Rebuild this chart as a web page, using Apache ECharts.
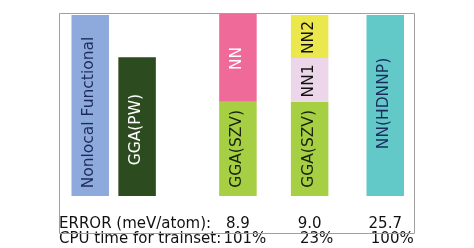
<!DOCTYPE html>
<html><head><meta charset="utf-8">
<script src="https://cdn.jsdelivr.net/npm/echarts@6/dist/echarts.min.js"></script>
<style>html,body{margin:0;padding:0;background:#fff}#c{width:474px;height:248px}</style>
</head><body><div id="c"></div>
<script>
// Data
const columnSlots = [8.8, 22.0, 50.4, 70.6, 91.9];           // position of each column on the x scale (0-100)
const baseNames   = ['Nonlocal Functional', 'GGA(PW)', 'GGA(SZV)', 'GGA(SZV)', 'NN(HDNNP)'];
const baseValues  = [98.9, 75.8, 51.5, 51.5, 98.9];
const nnValues    = [null, null, 48.5, null, null];
const nn1Values   = [null, null, null, 23.9, null];
const nn2Values   = [null, null, null, 23.5, null];
const rowLabels   = ['ERROR (meV/atom):', 'CPU time for trainset:'];
const errorValues = ['8.9', '9.0', '25.7'];
const cpuValues   = ['101%', '23%', '100%'];
const valueColumns = [2, 3, 4];

// styles
const baseColors = ['#8eaadc', '#2c4b1f', '#a6cf43', '#a6cf43', '#63c8c8'];
const baseLabelColors = ['#1c2a5c', '#ffffff', '#1a2410', '#1a2410', '#1c2a5c'];
const baseLabelShift = [6, 2, -1, -1, -3];
const stackLayers = [
  {name: 'NN',  values: nnValues,  color: '#ef6a98', text: '#ffffff'},
  {name: 'NN1', values: nn1Values, color: '#ebd6ea', text: '#111111'},
  {name: 'NN2', values: nn2Values, color: '#eae84c', text: '#111111'}
];
const FONT = 'DejaVu Sans';
const BAR_W = 37.5;

// build stacked segments [x, y0, y1, label, fill, textColor, labelShift]
const segments = [];
const tops = baseValues.slice();
columnSlots.forEach((x, i) => segments.push([x, 0, baseValues[i], baseNames[i], baseColors[i], baseLabelColors[i], baseLabelShift[i]]));
stackLayers.forEach(layer => {
  layer.values.forEach((v, i) => {
    if (v == null) return;
    segments.push([columnSlots[i], tops[i], tops[i] + v, layer.name, layer.color, layer.text, 0]);
    tops[i] += v;
  });
});

const chart = echarts.init(document.getElementById('c'), null, {renderer: 'canvas'});
chart.setOption({
  animation: false,
  grid: {left: 59, right: 60, top: 13, bottom: 52},
  xAxis: {type: 'value', min: 0, max: 100, show: false},
  yAxis: {type: 'value', min: 0, max: 100, show: false},
  series: [{
    type: 'custom',
    data: segments,
    encode: {x: 0, y: [1, 2]},
    renderItem: function (params, api) {
      const s = segments[params.dataIndex];
      const p0 = api.coord([s[0], s[1]]);
      const p1 = api.coord([s[0], s[2]]);
      return {
        type: 'group',
        children: [
          {type: 'rect', shape: {x: p0[0] - BAR_W / 2, y: p1[1], width: BAR_W, height: p0[1] - p1[1]},
           style: {fill: s[4]}},
          {type: 'text', x: p0[0] - 1, y: (p0[1] + p1[1]) / 2 + 1 + s[6], rotation: Math.PI / 2,
           style: {text: s[3], fill: s[5], fontFamily: FONT, fontSize: 15.5, align: 'center', verticalAlign: 'middle'}}
        ]
      };
    }
  }]
});

const txt = (x, y, text, align) => ({
  type: 'text', x: x, y: y,
  style: {text: text, fontFamily: FONT, fontSize: 15, fill: '#111', align: align, verticalAlign: 'alphabetic'}
});
const g = [];
g.push({type: 'rect', shape: {x: 59.5, y: 13.5, width: 355, height: 220}, style: {fill: 'none', stroke: '#a0a0a0', lineWidth: 1}, z: 10});
g.push(txt(59, 216.5, rowLabels[0], 'left'));
g.push(txt(59, 232, rowLabels[1], 'left'));
valueColumns.forEach((ci, k) => {
  const px = chart.convertToPixel({gridIndex: 0}, [columnSlots[ci], 0])[0];
  g.push(txt(px, 216.5, errorValues[k], 'center'));
  g.push(txt(px + 7, 232, cpuValues[k], 'center'));
});
chart.setOption({graphic: g});
</script></body></html>
